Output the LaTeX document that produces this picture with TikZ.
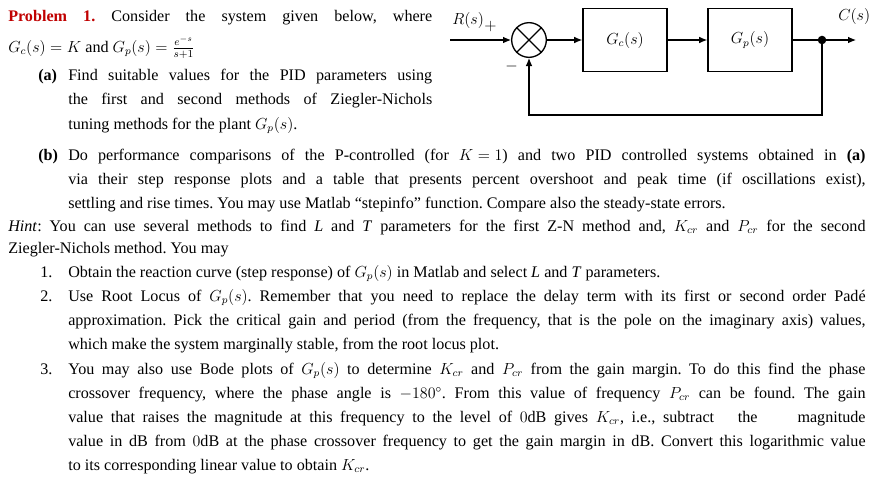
\documentclass[tikz,border=0pt]{standalone}
\usepackage{fontspec}
\setmainfont{Liberation Serif}
\usetikzlibrary{arrows.meta}
\definecolor{pr}{RGB}{192,0,0}
\begin{document}
\frenchspacing
\begin{tikzpicture}[x=0.75pt,y=-0.75pt,font=\fontsize{12.1}{14}\selectfont,
 ln/.style={anchor=base west,inner sep=0pt},
 blk/.style={draw,line width=1.2pt,minimum width=63pt,minimum height=47pt,inner sep=0pt},
 arr/.style={-{Latex[length=6pt,width=5pt]},line width=0.8pt}]
\useasboundingbox (0,0) rectangle (893,493);
% diagram
\node[circle,draw,line width=1pt,minimum size=26pt,inner sep=0pt] (sum) at (529,40) {};
\draw[line width=1pt] (sum.north west)--(sum.south east) (sum.north east)--(sum.south west);
\node[blk] (gc) at (625,40) {$G_c(s)$};
\node[blk] (gp) at (750,40) {$G_p(s)$};
\coordinate (in) at (450,40);
\coordinate (out) at (856,40);
\coordinate (fb1) at (822,115);
\coordinate (fb2) at (529,115);
\fill (822,40) circle (3.2pt) coordinate (dot);
\draw[arr] (in)--(sum);
\draw[arr] (sum)--(gc);
\draw[arr] (gc)--(gp);
\draw[line width=0.8pt] (gp)--(dot);
\draw[arr] (dot)--(out);
\draw[arr] (dot)--(fb1)--(fb2)--(sum);
\node[ln] (r) at (452,24) {$R(s)$};
\node[ln] (pl) at (484,30) {$+$};
\node[ln] (mi) at (505,70) {$-$};
\node[ln] (c) at (838,20) {$C(s)$};
% text
\node[ln] (l1) at (8,21) {\makebox[318pt][s]{\textcolor{pr}{\textbf{Problem 1.}} Consider the system given below, where}};
\node[ln] (l2) at (8,52) {$G_c(s)=K$ and $G_p(s)=\frac{e^{-s}}{s+1}$};
\node[ln] (a) at (38,80) {\textbf{(a)}};
\node[ln] (a1) at (68,80) {\makebox[273pt][s]{Find suitable values for the PID parameters using}};
\node[ln] (a2) at (68,104) {\makebox[273pt][s]{the first and second methods of Ziegler-Nichols}};
\node[ln] (a3) at (68,129) {tuning methods for the plant $G_p(s)$.};
\node[ln] (b) at (38,160) {\textbf{(b)}};
\node[ln] (b1) at (68,160) {\makebox[598pt][s]{Do performance comparisons of the P-controlled (for ${K=1}$) and two PID controlled systems obtained in \textbf{(a)}}};
\node[ln] (b2) at (68,184) {\makebox[598pt][s]{via their step response plots and a table that presents percent overshoot and peak time (if oscillations exist),}};
\node[ln] (b3) at (68,208) {settling and rise times. You may use Matlab “stepinfo” function. Compare also the steady-state errors.};
\node[ln] (h1) at (8,231) {\makebox[643pt][s]{\textit{Hint}: You can use several methods to find \textit{L} and \textit{T} parameters for the first Z-N method and, $K_{cr}$ and $P_{cr}$ for the second}};
\node[ln] (h2) at (8,253) {Ziegler-Nichols method. You may};
\node[ln] (n1) at (40,277) {1.};
\node[ln] (i1) at (68,277) {Obtain the reaction curve (step response) of $G_p(s)$ in Matlab and select \textit{L} and \textit{T} parameters.};
\node[ln] (n2) at (40,301) {2.};
\node[ln] (i21) at (68,301) {\makebox[598pt][s]{Use Root Locus of $G_p(s)$. Remember that you need to replace the delay term with its first or second order Padé}};
\node[ln] (i22) at (68,325) {\makebox[598pt][s]{approximation. Pick the critical gain and period (from the frequency, that is the pole on the imaginary axis) values,}};
\node[ln] (i23) at (68,349) {which make the system marginally stable, from the root locus plot.};
\node[ln] (n3) at (40,374) {3.};
\node[ln] (i31) at (68,374) {\makebox[598pt][s]{You may also use Bode plots of $G_p(s)$ to determine $K_{cr}$ and $P_{cr}$ from the gain margin. To do this find the phase}};
\node[ln] (i32) at (68,398) {\makebox[598pt][s]{crossover frequency, where the phase angle is ${-180^\circ}$. From this value of frequency $P_{cr}$ can be found. The gain}};
\node[ln] (i33) at (68,422) {\makebox[598pt][s]{value that raises the magnitude at this frequency to the level of $0\mathrm{dB}$ gives $K_{cr}$, i.e., subtract \quad the \qquad magnitude}};
\node[ln] (i34) at (68,446) {\makebox[598pt][s]{value in dB from $0\mathrm{dB}$ at the phase crossover frequency to get the gain margin in dB. Convert this logarithmic value}};
\node[ln] (i35) at (68,470) {to its corresponding linear value to obtain $K_{cr}$.};
\end{tikzpicture}
\end{document}
